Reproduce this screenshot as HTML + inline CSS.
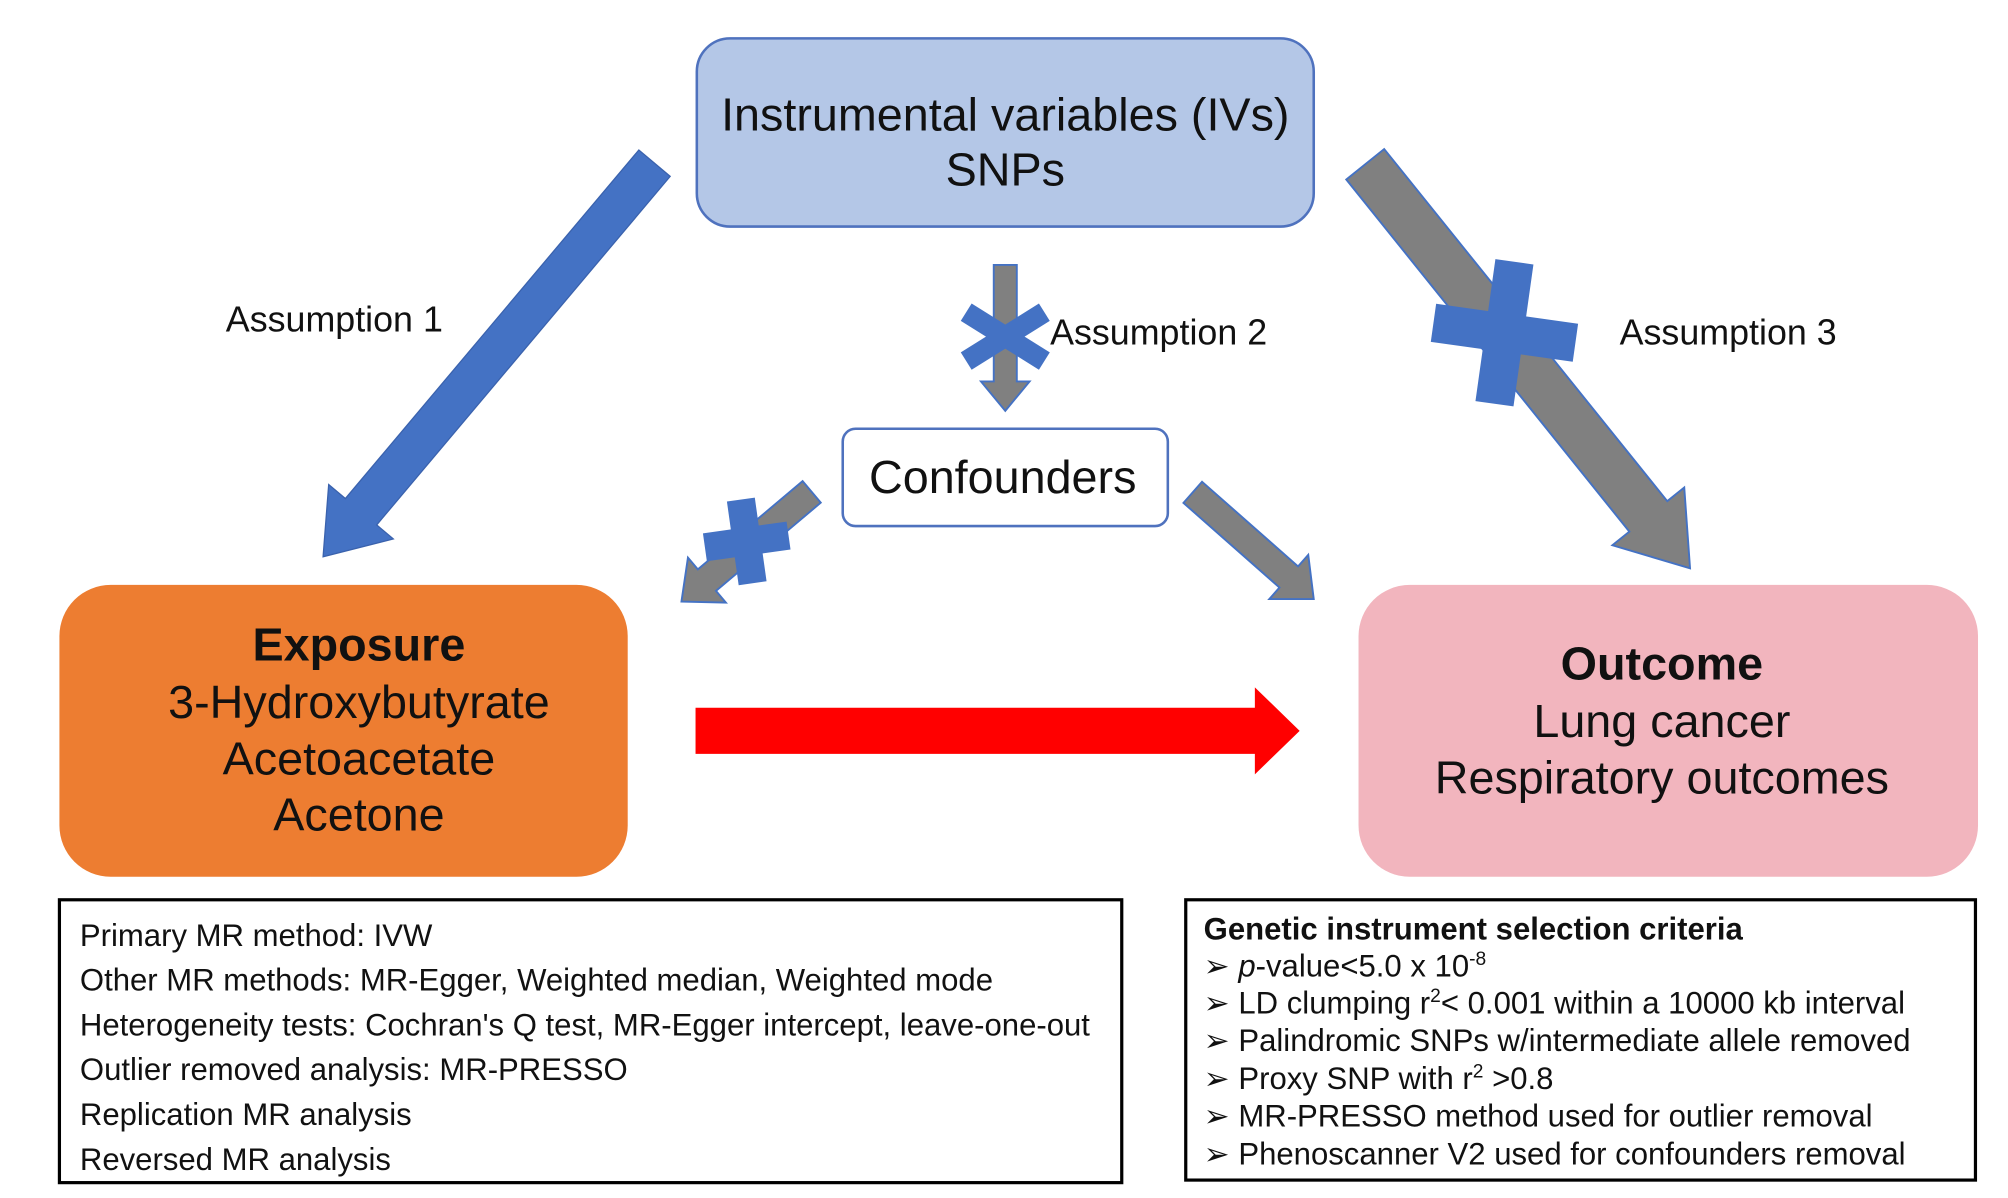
<!DOCTYPE html>
<html><head><meta charset="utf-8"><style>
html,body{margin:0;padding:0;background:#fff;}
svg{display:block;}
text{font-family:"Liberation Sans",Arial,sans-serif;fill:#111;}
</style></head><body>
<svg width="2008" height="1198" viewBox="0 0 1568 936" xmlns="http://www.w3.org/2000/svg">
<rect width="1568" height="936" fill="#fff"/>
<!-- top box -->
<rect x="544" y="30" width="482" height="147" rx="26" fill="#b4c7e7" stroke="#4f72be" stroke-width="2"/>
<text x="785" y="102" font-size="36.5" text-anchor="middle">Instrumental variables (IVs)</text>
<text x="785" y="145" font-size="36.5" text-anchor="middle">SNPs</text>

<!-- arrow 1 blue -->
<g transform="translate(252,435) rotate(130.1)">
<polygon points="-402,-16 -46,-16 -46,-33 0,0 -46,33 -46,16 -402,16" fill="#4472c4" stroke="#3a62ad" stroke-width="1"/>
</g>
<text x="176" y="259" font-size="28">Assumption 1</text>

<!-- arrow 3 gray -->
<g transform="translate(1320,444) rotate(51.2)">
<polygon points="-405,-19 -52,-19 -52,-36 0,0 -52,36 -52,19 -405,19" fill="#808080" stroke="#4472c4" stroke-width="1.5"/>
</g>
<g transform="translate(1175,260) rotate(8)" fill="#4472c4">
<rect x="-15" y="-56" width="30" height="112"/>
<rect x="-56" y="-15" width="112" height="30"/>
</g>
<text x="1265" y="269" font-size="28">Assumption 3</text>

<!-- arrow 2 -->
<polygon points="776,207 794,207 794,298 804,298 785,321 766,298 776,298" fill="#808080" stroke="#4472c4" stroke-width="1.5"/>
<g transform="translate(785,263)" fill="#4472c4">
<g transform="rotate(58)"><rect x="-8" y="-36" width="16" height="72"/></g>
<g transform="rotate(-58)"><rect x="-8" y="-36" width="16" height="72"/></g>
</g>
<text x="820" y="269" font-size="28">Assumption 2</text>

<!-- confounders -->
<rect x="658" y="335" width="254" height="76" rx="10" fill="#fff" stroke="#4f72be" stroke-width="2"/>
<text x="783" y="385" font-size="36.5" text-anchor="middle">Confounders</text>

<g transform="translate(532,470) rotate(139.9)">
<polygon points="-133,-11 -26,-11 -26,-23 0,0 -26,23 -26,11 -133,11" fill="#808080" stroke="#4472c4" stroke-width="1.5"/>
</g>
<g transform="translate(583,423) rotate(-8)" fill="#4472c4">
<rect x="-11" y="-33" width="22" height="66"/>
<rect x="-33" y="-11" width="66" height="22"/>
</g>
<g transform="translate(1026,468) rotate(41.4)">
<polygon points="-126,-11 -26,-11 -26,-23 0,0 -26,23 -26,11 -126,11" fill="#808080" stroke="#4472c4" stroke-width="1.5"/>
</g>

<!-- exposure -->
<rect x="46" y="457" width="444" height="228" rx="40" fill="#ed7d31"/>
<text x="280" y="516" font-size="36.5" font-weight="bold" text-anchor="middle">Exposure</text>
<text x="280" y="561" font-size="36.5" text-anchor="middle">3-Hydroxybutyrate</text>
<text x="280" y="605" font-size="36.5" text-anchor="middle">Acetoacetate</text>
<text x="280" y="649" font-size="36.5" text-anchor="middle">Acetone</text>

<!-- outcome -->
<rect x="1061" y="457" width="484" height="228" rx="40" fill="#f2b5be"/>
<text x="1298" y="531" font-size="36.5" font-weight="bold" text-anchor="middle">Outcome</text>
<text x="1298" y="576" font-size="36.5" text-anchor="middle">Lung cancer</text>
<text x="1298" y="620" font-size="36.5" text-anchor="middle">Respiratory outcomes</text>

<!-- red arrow -->
<polygon points="543,553 980,553 980,537 1015,571 980,605 980,589 543,589" fill="#ff0000"/>

<!-- bottom left box -->
<rect x="46" y="703" width="830" height="221" fill="#fff" stroke="#000" stroke-width="2.5"/>
<g font-size="24.3">
<text x="62" y="739">Primary MR method: IVW</text>
<text x="62" y="774">Other MR methods: MR-Egger, Weighted median, Weighted mode</text>
<text x="62" y="809">Heterogeneity tests: Cochran's Q test, MR-Egger intercept, leave-one-out</text>
<text x="62" y="844">Outlier removed analysis: MR-PRESSO</text>
<text x="62" y="879">Replication MR analysis</text>
<text x="62" y="914">Reversed MR analysis</text>
</g>

<!-- bottom right box -->
<rect x="926" y="703" width="617" height="219" fill="#fff" stroke="#000" stroke-width="2.5"/>
<g font-size="24.3">
<text x="940" y="734" font-weight="bold">Genetic instrument selection criteria</text>
<text x="940" y="763">➢ <tspan font-style="italic">p</tspan>-value&lt;5.0 x 10<tspan font-size="15" dy="-9">-8</tspan></text>
<text x="940" y="792">➢ LD clumping r<tspan font-size="15" dy="-9">2</tspan><tspan dy="9">&lt; 0.001 within a 10000 kb interval</tspan></text>
<text x="940" y="821">➢ Palindromic SNPs w/intermediate allele removed</text>
<text x="940" y="851">➢ Proxy SNP with r<tspan font-size="15" dy="-9">2</tspan><tspan dy="9"> &gt;0.8</tspan></text>
<text x="940" y="880">➢ MR-PRESSO method used for outlier removal</text>
<text x="940" y="910">➢ Phenoscanner V2 used for confounders removal</text>
</g>
</svg>
</body></html>
